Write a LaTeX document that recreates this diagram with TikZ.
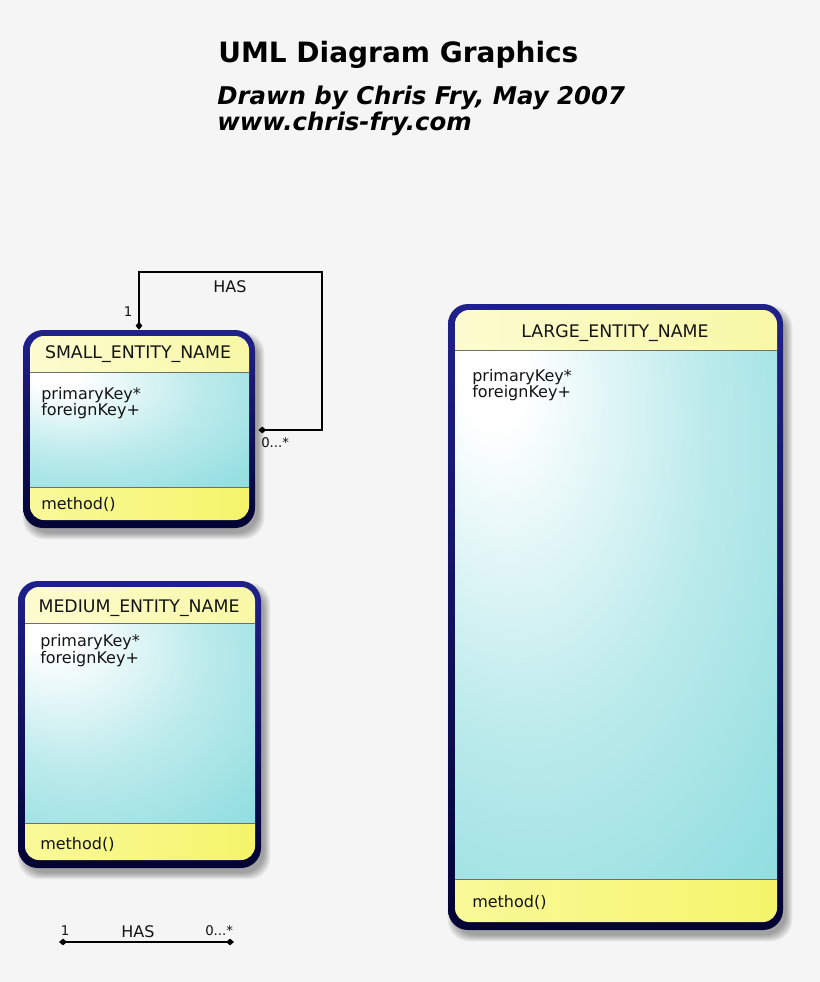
\documentclass[tikz,border=0pt]{standalone}
\usepackage{fontspec}
\setmainfont{DejaVu Sans}
\usepackage{xcolor}
\usetikzlibrary{arrows.meta,positioning,calc}
\pgfdeclarelayer{bg}
\pgfsetlayers{bg,main}

\definecolor{pagegray}{HTML}{F5F5F5}
\definecolor{framenavy}{HTML}{20208C}
\definecolor{framedark}{HTML}{030334}
\definecolor{headpale}{HTML}{FCFCD0}
\definecolor{headdeep}{HTML}{F8F8A6}
\definecolor{methodpale}{HTML}{F9F99A}
\definecolor{methoddeep}{HTML}{F5F56A}
\definecolor{bodycyan}{HTML}{6CD3D6}
\definecolor{bodymid}{HTML}{BDEBEC}
\definecolor{rulegray}{HTML}{6E6E6E}
\definecolor{inkblack}{HTML}{141414}

\pgfdeclareradialshading{bodyglow}{\pgfpoint{-20bp}{24bp}}{color(0bp)=(white); color(5bp)=(white); color(28bp)=(bodymid); color(68bp)=(bodycyan); color(100bp)=(bodycyan)}

\tikzset{
  entity frame/.style={rectangle, rounded corners=15pt, top color=framenavy, bottom color=framedark, inner sep=0pt},
  entity shadow/.style={fill=black, opacity=0.055, rounded corners=16pt},
  entity head/.style={left color=headpale, right color=headdeep},
  entity body/.style={shading=bodyglow},
  entity foot/.style={left color=methodpale, right color=methoddeep},
  entity rule/.style={draw=rulegray, line width=0.7pt},
  entity title/.style={font=\fontsize{13}{15}\selectfont, text=inkblack, inner sep=0pt, anchor=base},
  entity text/.style={font=\fontsize{12}{14}\selectfont, text=inkblack, inner sep=0pt, anchor=base west},
  mult/.style={font=\fontsize{10}{12}\selectfont, text=inkblack, inner sep=0pt},
  rel/.style={draw=black, line width=0.9pt, {Diamond[length=6pt,width=5pt]}-{Diamond[length=6pt,width=5pt]}}
}

\begin{document}
\begin{tikzpicture}[x = 0.75pt, y = -0.75pt]
\useasboundingbox (0,0) rectangle (820,982);

% heading
\node[anchor = base west, inner sep = 0pt, font = \bfseries\fontsize{21}{25}\selectfont] (title) at (218,62) {UML Diagram Graphics};
\node[anchor = base west, inner sep = 0pt, font = \bfseries\itshape\fontsize{18.3}{21}\selectfont] (byline) at (217,104) {Drawn by Chris Fry, May 2007};
\node[anchor = base west, inner sep = 0pt, font = \bfseries\itshape\fontsize{18.3}{21}\selectfont] (website) at (217,130) {www.chris-fry.com};

% small entity
\node[entity frame, minimum width = 174pt, minimum height = 148.5pt] (small) at (139,429) {};
\begin{scope}
\clip[rounded corners = 10.5pt] (30,336) rectangle (249,520);
\shade[entity head] (30,336) rectangle (249,372);
\shade[entity body] (30,372) rectangle (249,487);
\shade[entity foot] (30,487) rectangle (249,520);
\end{scope}
\draw[entity rule] (30,372) -- (249,372);
\draw[entity rule] (30,487) -- (249,487);
\node[entity title] (smallname) at (138,358) {SMALL\_ENTITY\_NAME};
\node[entity text] (smallpk) at (41,399) {primaryKey*};
\node[entity text] (smallfk) at (41,415) {foreignKey+};
\node[entity text] (smallmethod) at (41,509) {method()};

% medium entity
\node[entity frame, minimum width = 182.25pt, minimum height = 215.25pt] (medium) at (139.5,724.5) {};
\begin{scope}
\clip[rounded corners = 10.5pt] (25,587) rectangle (255,860);
\shade[entity head] (25,587) rectangle (255,623);
\shade[entity body] (25,623) rectangle (255,823);
\shade[entity foot] (25,823) rectangle (255,860);
\end{scope}
\draw[entity rule] (25,623) -- (255,623);
\draw[entity rule] (25,823) -- (255,823);
\node[entity title] (mediumname) at (139,612) {MEDIUM\_ENTITY\_NAME};
\node[entity text] (mediumpk) at (40,646) {primaryKey*};
\node[entity text] (mediumfk) at (40,663) {foreignKey+};
\node[entity text] (mediummethod) at (40,849) {method()};

% large entity
\node[entity frame, minimum width = 251.25pt, minimum height = 469.5pt] (large) at (615.5,617) {};
\begin{scope}
\clip[rounded corners = 10.5pt] (455,310) rectangle (777,922);
\shade[entity head] (455,310) rectangle (777,350);
\shade[entity body] (455,350) rectangle (777,879);
\shade[entity foot] (455,879) rectangle (777,922);
\end{scope}
\draw[entity rule] (455,350) -- (777,350);
\draw[entity rule] (455,879) -- (777,879);
\node[entity title] (largename) at (615,337) {LARGE\_ENTITY\_NAME};
\node[entity text] (largepk) at (472,381) {primaryKey*};
\node[entity text] (largefk) at (472,397) {foreignKey+};
\node[entity text] (largemethod) at (472,907) {method()};

% soft shadows behind the boxes
\begin{pgfonlayer}{bg}
\fill[pagegray] (0,0) rectangle (820,982);
\foreach \ent in {small,medium,large}
  \foreach \g in {0,...,6}
    \fill[entity shadow] ($(\ent.north west)+(6-\g,8-\g)$) rectangle ($(\ent.south east)+(3+\g,5+\g)$);
\end{pgfonlayer}

% self relation
\coordinate (loopcorner) at (322,272);
\draw[rel] (small.north) |- (loopcorner) |- ($(small.east)+(3,1)$);
\node[entity title, font = \fontsize{12}{14}\selectfont] (loophas) at (230,292) {HAS};
\node[mult, anchor = base] (loopone) at (128,316) {1};
\node[mult, anchor = base west] (loopmany) at (261,447) {0...*};

% legend
\coordinate (legendleft) at (59,942);
\coordinate (legendright) at (234,942);
\draw[rel] (legendleft) -- (legendright);
\node[mult, anchor = base] (legendone) at (65,935) {1};
\node[entity title, font = \fontsize{12}{14}\selectfont] (legendhas) at (138,937) {HAS};
\node[mult, anchor = base west] (legendmany) at (205,935) {0...*};
\end{tikzpicture}
\end{document}
